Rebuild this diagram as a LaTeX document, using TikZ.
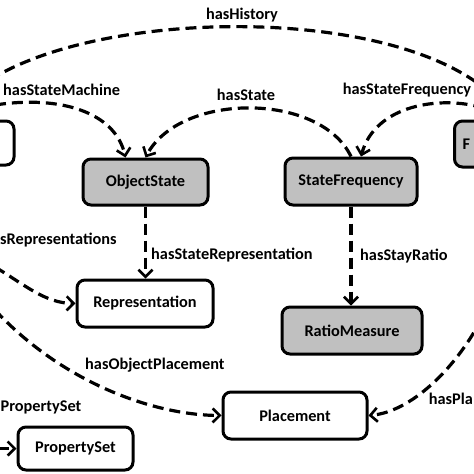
\documentclass[tikz,border=0pt]{standalone}
\usepackage{fontspec}
\setmainfont{Carlito}
\usetikzlibrary{arrows.meta}
\definecolor{boxgray}{RGB}{192,192,192}
\begin{document}
\begin{tikzpicture}[x=1pt,y=-1pt,
  every node/.style={font=\fontsize{16.3}{19}\selectfont\bfseries},
  cls/.style={draw=black,line width=3pt,rounded corners=8pt,fill=white,inner sep=0pt},
  grayc/.style={cls,fill=boxgray},
  rel/.style={line width=3.2pt,dash pattern=on 11pt off 6pt},
  arr/.style={rel,-{Straight Barb[length=7pt,width=14pt,line width=2.6pt]}},
  lbl/.style={inner sep=0pt}
]
\useasboundingbox (0,0) rectangle (474,474);
\clip (0,0) rectangle (474,474);
% nodes
\node[cls,minimum width=114pt,minimum height=44pt] (left) at (-43,143) {};
\node[grayc,minimum width=120pt,minimum height=46pt,anchor=west,align=left,text width=104pt] (right) at (453,144) {F};
\node[grayc,minimum width=125pt,minimum height=46pt] (os) at (145.5,182) {ObjectState};
\node[grayc,minimum width=132pt,minimum height=47pt] (sf) at (351,181.5) {StateFrequency};
\node[cls,minimum width=136pt,minimum height=47pt] (rep) at (145,303.5) {Representation};
\node[grayc,minimum width=140pt,minimum height=47pt] (rm) at (352,330.5) {RatioMeasure};
\node[cls,minimum width=144pt,minimum height=47pt] (pl) at (295,415.5) {Placement};
\node[cls,minimum width=115pt,minimum height=43pt] (ps) at (75.5,448.5) {PropertySet};
% free ends
\coordinate (hL) at (-10,80);
\coordinate (hR) at (484,88);
\coordinate (smL) at (-5,105);
\coordinate (sfR) at (484,108);
\coordinate (rL) at (-5,267);
\coordinate (opL) at (-5,310);
\coordinate (plR) at (482,318);
\coordinate (psL) at (-2,448.5);
% connectors
\draw[rel] (hL) .. controls (100,10) and (380,5) .. (hR);
\draw[arr] (smL) .. controls (60,95) and (115,112) .. ([xshift=-20pt]os.north);
\draw[arr] ([xshift=0pt]sf.north) .. controls (320,92) and (180,92) .. ([xshift=0pt]os.north);
\draw[arr] (sfR) .. controls (440,95) and (375,105) .. ([xshift=10pt]sf.north);
\draw[arr] (os.south) -- (os.south |- rep.north);
\draw[arr] (sf.south) -- (sf.south |- rm.north);
\draw[arr] (rL) .. controls (25,285) and (45,303) .. (rep.west);
\draw[arr] (opL) .. controls (60,380) and (150,415) .. (pl.west);
\draw[arr] (plR) .. controls (455,370) and (410,412) .. (pl.east);
\draw[arr] (psL) -- (ps.west);
% labels
\node[lbl] (lhist) at (242,15) {hasHistory};
\node[lbl,anchor=west] (lsm) at (3,90) {hasStateMachine};
\node[lbl] (lst) at (246,95) {hasState};
\node[lbl] (lsf) at (407,90) {hasStateFrequency};
\node[lbl,anchor=west] (lrep) at (0,240) {sRepresentations};
\node[lbl,anchor=west] (lsr) at (151,255) {hasStateRepresentation};
\node[lbl,anchor=west] (lsty) at (360,256) {hasStayRatio};
\node[lbl,anchor=west] (lop) at (85,365) {hasObjectPlacement};
\node[lbl,anchor=west] (lps) at (0.5,407) {PropertySet};
\node[lbl,anchor=east] (lpl) at (473,399) {hasPla};
\end{tikzpicture}
\end{document}
